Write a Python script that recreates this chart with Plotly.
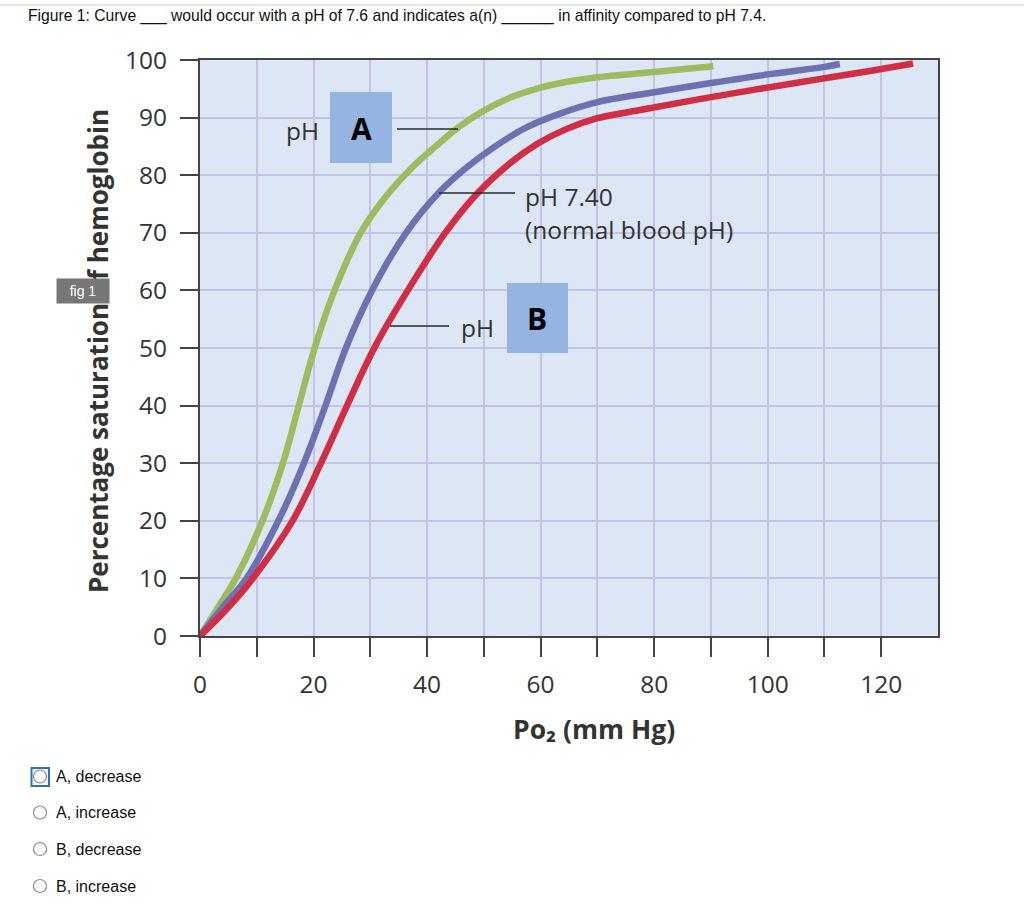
import plotly.graph_objects as go

# ---------------- data ----------------
green_x = [0, 3.2, 6.3, 11.0, 14.6, 17.4, 20.2, 23.7, 28.3, 32.5, 37.0, 41.5, 45.5, 50.0, 55.0, 60.0, 64.0, 70.0, 80.0, 90.4]
green_y = [0, 5.0, 10.0, 20.0, 30.0, 40.0, 50.0, 60.0, 70.0, 76.0, 81.0, 85.0, 88.3, 91.2, 93.6, 95.2, 96.1, 97.0, 97.9, 98.9]

blue_x = [0, 4.0, 8.2, 13.8, 18.3, 22.1, 25.7, 30.3, 36.3, 42.3, 46.8, 52.0, 57.5, 63.4, 70.0, 80.0, 90.0, 100.0, 110.0, 112.7]
blue_y = [0, 5.0, 10.0, 20.0, 30.0, 40.0, 50.0, 60.0, 70.0, 77.2, 81.2, 85.0, 88.3, 90.7, 92.7, 94.4, 96.0, 97.5, 98.8, 99.3]

red_x = [0, 5.0, 9.3, 16.3, 21.3, 25.9, 30.7, 36.6, 43.2, 49.0, 54.5, 59.5, 64.5, 70.0, 78.0, 88.0, 98.0, 108.0, 118.0, 125.6]
red_y = [0, 5.0, 10.0, 20.0, 30.0, 40.0, 50.0, 60.0, 70.0, 77.0, 82.0, 85.5, 88.0, 89.9, 91.4, 93.2, 94.9, 96.5, 98.1, 99.4]

x_tickvals = [0, 10, 20, 30, 40, 50, 60, 70, 80, 90, 100, 110, 120]
x_ticktext = ["0", "", "20", "", "40", "", "60", "", "80", "", "100", "", "120"]
y_tickvals = [0, 10, 20, 30, 40, 50, 60, 70, 80, 90, 100]
y_ticktext = [str(v) for v in y_tickvals]

question = "Figure 1: Curve ___ would occur with a pH of 7.6 and indicates a(n) ______ in affinity compared to pH 7.4."
options = ["A, decrease", "A, increase", "B, decrease", "B, increase"]

# ---------------- layout helpers (pixel -> paper) ----------------
W, H = 1024, 904
L, R, T, B = 200, 938, 60, 636


def px(p):
    return (p - L) / (R - L)


def py(p):
    return (B - p) / (B - T)


GREEN = "#9dbb5f"
BLUE = "#6d71b1"
RED = "#d12d43"
TXT = "#333333"
CHART_FONT = "Open Sans"
QUIZ_FONT = "Liberation Sans"

fig = go.Figure()
for xs, ys, col in [(green_x, green_y, GREEN), (blue_x, blue_y, BLUE), (red_x, red_y, RED)]:
    fig.add_trace(go.Scatter(x=xs, y=ys, mode="lines",
                             line=dict(color=col, width=6.5, shape="spline", smoothing=1.0),
                             hoverinfo="skip", showlegend=False))

axis_common = dict(
    ticks="outside", tickwidth=2, tickcolor="#444444",
    showgrid=True, gridcolor="#c4c3e6", gridwidth=1.5,
    showline=True, linecolor="#444444", linewidth=2, mirror=True,
    zeroline=False, tickfont=dict(family=CHART_FONT, size=24.5, color=TXT),
    fixedrange=True,
)

fig.update_layout(
    width=W, height=H, autosize=False,
    margin=dict(l=L, r=W - R, t=T, b=H - B, pad=0),
    paper_bgcolor="white", plot_bgcolor="#dce6f4",
    showlegend=False,
    xaxis=dict(range=[0, 130], tickmode="array", tickvals=x_tickvals, ticktext=x_ticktext,
               ticklen=19, ticklabelstandoff=7, **axis_common),
    yaxis=dict(range=[0, 100], tickmode="array", tickvals=y_tickvals, ticktext=y_ticktext,
               ticklen=18, ticklabelstandoff=8, **axis_common),
)

shapes = []
anns = []

# top thin rule
shapes.append(dict(type="line", xref="paper", yref="paper", x0=px(0), x1=px(1024), y0=py(5), y1=py(5),
                   line=dict(color="#d4d4d4", width=1)))
anns.append(dict(xref="paper", yref="paper", x=px(26), y=py(16), xanchor="left", yanchor="middle",
                 text=question, showarrow=False, font=dict(family=QUIZ_FONT, size=15.7, color="#111111")))

# label boxes
BOXC = "#95b4e1"
shapes.append(dict(type="rect", xref="paper", yref="paper", x0=px(330), x1=px(392), y0=py(163), y1=py(92),
                   fillcolor=BOXC, line=dict(width=0), layer="above"))
shapes.append(dict(type="rect", xref="paper", yref="paper", x0=px(507), x1=px(568), y0=py(353), y1=py(283),
                   fillcolor=BOXC, line=dict(width=0), layer="above"))
# leader lines
for (a, b, yy) in [(397, 458, 129), (439, 515, 193), (390, 449, 326)]:
    shapes.append(dict(type="line", xref="paper", yref="paper", x0=px(a), x1=px(b), y0=py(yy), y1=py(yy),
                       line=dict(color="#2b2b2b", width=1.6), layer="above"))

LBL = 24.5
anns += [
    dict(x=px(321), y=py(131), xanchor="right", yanchor="middle", text="pH",
         font=dict(family=CHART_FONT, size=LBL, color=TXT)),
    dict(x=px(361), y=py(128), xanchor="center", yanchor="middle", text="<b>A</b>",
         font=dict(family=CHART_FONT, size=30, color="#000000")),
    dict(x=px(523), y=py(196), xanchor="left", yanchor="middle", text="pH 7.40",
         font=dict(family=CHART_FONT, size=LBL, color=TXT)),
    dict(x=px(523), y=py(229), xanchor="left", yanchor="middle", text="(normal blood pH)",
         font=dict(family=CHART_FONT, size=LBL, color=TXT)),
    dict(x=px(459), y=py(327), xanchor="left", yanchor="middle", text="pH",
         font=dict(family=CHART_FONT, size=LBL, color=TXT)),
    dict(x=px(537), y=py(318), xanchor="center", yanchor="middle", text="<b>B</b>",
         font=dict(family=CHART_FONT, size=30, color="#000000")),
    # axis titles
    dict(x=px(594), y=py(729), xanchor="center", yanchor="middle", text="<b>Po₂ (mm Hg)</b>",
         font=dict(family=CHART_FONT, size=26.5, color=TXT)),
    dict(x=px(98), y=py(351), xanchor="center", yanchor="middle", textangle=-90,
         text="<b>Percentage saturation of hemoglobin</b>",
         font=dict(family=CHART_FONT, size=26, color=TXT)),
    # fig 1 badge (on top of the axis title)
    dict(x=px(83), y=py(291), xanchor="center", yanchor="middle", text="fig 1",
         width=50, height=22, bgcolor="#777777", borderpad=1,
         font=dict(family=QUIZ_FONT, size=14, color="white")),
]
for a in anns:
    a.setdefault("xref", "paper")
    a.setdefault("yref", "paper")
    a.setdefault("showarrow", False)

# radio options
ys_opt = [776.5, 812.5, 849, 886]
for i, (lab, yy) in enumerate(zip(options, ys_opt)):
    shapes.append(dict(type="circle", xref="paper", yref="paper", x0=px(33.5), x1=px(46.5),
                       y0=py(yy + 6.5), y1=py(yy - 6.5), fillcolor="white",
                       line=dict(color="#8c8c8c", width=1.2)))
    anns.append(dict(xref="paper", yref="paper", x=px(54), y=py(yy), xanchor="left", yanchor="middle",
                     text=lab, showarrow=False, font=dict(family=QUIZ_FONT, size=16, color="#111111")))
shapes.append(dict(type="rect", xref="paper", yref="paper", x0=px(31.5), x1=px(49), y0=py(786), y1=py(768),
                   line=dict(color="#2f6fc2", width=2)))

fig.update_layout(shapes=shapes, annotations=anns)
fig.write_html("out.html")
